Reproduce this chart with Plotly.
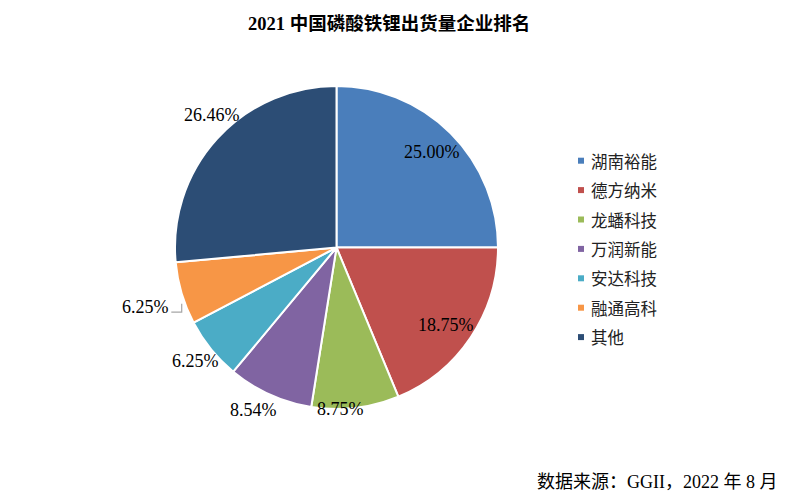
import math
import plotly.graph_objects as go

# ---- data ----
title_text = "2021 中国磷酸铁锂出货量企业排名"
source_text = "数据来源：GGII，2022 年 8 月"
companies = ["湖南裕能", "德方纳米", "龙蟠科技", "万润新能", "安达科技", "融通高科", "其他"]
shares = [25.00, 18.75, 8.75, 8.54, 6.25, 6.25, 26.46]
colors = ["#4A7EBB", "#C0504D", "#9BBB59", "#8064A2", "#4BACC6", "#F79646", "#2C4D75"]

# ---- layout geometry (pixels) ----
W, H = 787, 503
CX, CY, R = 336.5, 247.5, 161.5
# per-slice label placement: (angle offset deg, radius factor)
label_place = [(0, 0.84), (1.5, 0.83), (5.5, 1.0), (2.6, 1.13), (0, 1.12), (-0.8, 1.24), (4.4, 1.13)]
leader_slice = 5

fig = go.Figure()
fig.add_trace(go.Pie(
    labels=companies, values=shares, sort=False, direction="clockwise", rotation=0,
    marker=dict(colors=colors, line=dict(color="white", width=2)),
    textinfo="none", hoverinfo="label+percent", showlegend=False,
    domain=dict(x=[(CX - R) / W, (CX + R) / W], y=[1 - (CY + R) / H, 1 - (CY - R) / H]),
))

def px2paper(x, y):
    return x / W, 1 - y / H

annotations = []
shapes = []
total = sum(shares)
cum = 0.0
serif = "Liberation Serif, Times New Roman, serif"
for i, v in enumerate(shares):
    mid = (cum + v / 2) / total * 360
    cum += v
    off, rf = label_place[i]
    a = math.radians(mid + off)
    lx = CX + rf * R * math.sin(a)
    ly = CY - rf * R * math.cos(a)
    px, py = px2paper(lx, ly)
    annotations.append(dict(x=px, y=py, xref="paper", yref="paper", text=f"{v:.2f}%",
                            showarrow=False, font=dict(family=serif, size=18, color="#000"),
                            xanchor="center", yanchor="middle"))
    if i == leader_slice:
        am = math.radians(mid - 3.5)
        sx = CX + 1.02 * R * math.sin(am)
        sy = CY - 1.02 * R * math.cos(am)
        ex = lx + 26
        ey = ly + 5
        x0, y0 = px2paper(sx, sy)
        x1, y1 = px2paper(sx, ey)
        x2, y2 = px2paper(ex, ey)
        shapes.append(dict(type="path", xref="paper", yref="paper",
                           path=f"M{x0},{y0} L{x1},{y1} L{x2},{y2}",
                           line=dict(color="#A6A6A6", width=1.2)))

# custom legend
LX, LY0, LDY = 581, 160.7, 29.4
for i, (name, c) in enumerate(zip(companies, colors)):
    y = LY0 + i * LDY
    x0, y0 = px2paper(LX - 3, y - 3)
    x1, y1 = px2paper(LX + 3, y + 3)
    shapes.append(dict(type="rect", xref="paper", yref="paper", x0=x0, x1=x1, y0=y0, y1=y1,
                       fillcolor=c, line=dict(width=0)))
    tx, ty = px2paper(LX + 8, y)
    annotations.append(dict(x=tx, y=ty, xref="paper", yref="paper", text=name, showarrow=False,
                            xanchor="left", yanchor="middle",
                            font=dict(family="Noto Sans CJK SC", size=16.5, color="#222")))

# title
tx, ty = px2paper(389, 24)
annotations.append(dict(x=tx, y=ty, xref="paper", yref="paper", text=f"<b>{title_text}</b>",
                        showarrow=False, xanchor="center", yanchor="middle",
                        font=dict(family="Liberation Serif, Noto Sans CJK SC", size=18.5, color="#000")))
# source
sx_, sy_ = px2paper(780, 482)
annotations.append(dict(x=sx_, y=sy_, xref="paper", yref="paper", text=source_text,
                        showarrow=False, xanchor="right", yanchor="middle",
                        font=dict(family="Liberation Serif, Noto Sans CJK SC", size=18, color="#000")))

fig.update_layout(width=W, height=H, margin=dict(l=0, r=0, t=0, b=0),
                  paper_bgcolor="white", plot_bgcolor="white",
                  annotations=annotations, shapes=shapes)
fig.write_html("out.html")
